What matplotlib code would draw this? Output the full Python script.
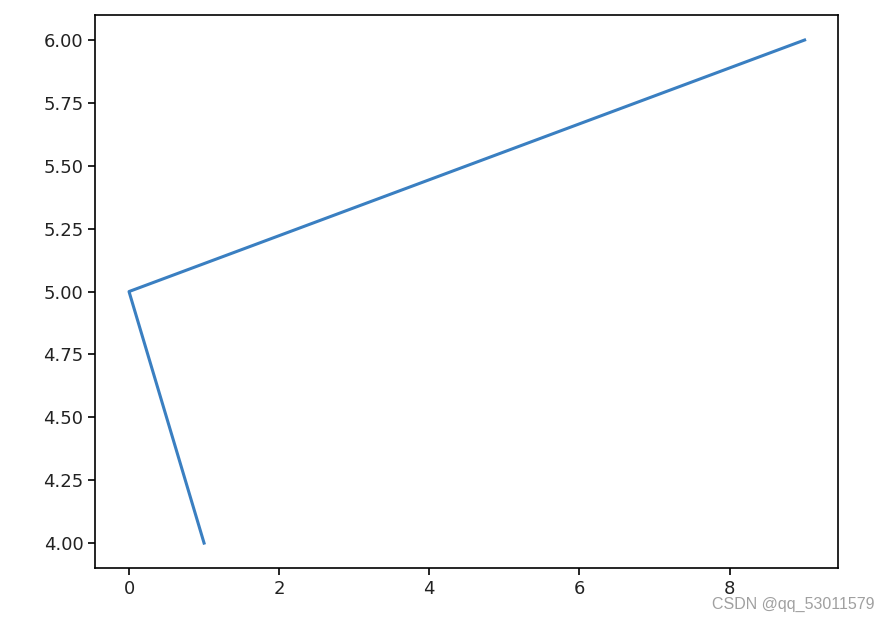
import matplotlib
matplotlib.use("Agg")
import matplotlib.pyplot as plt

# data
x = [1, 0, 9]
y = [4, 5, 6]

fig = plt.figure(figsize=(8.9, 6.19), dpi=100)
ax = fig.add_axes([0.107, 0.082, 0.835, 0.894])
ax.plot(x, y, color='#3a7fc1', linewidth=2.2)

ax.tick_params(labelsize=13, length=5, width=1.2, labelcolor='#222222')
ax.set_yticks([4.0, 4.25, 4.5, 4.75, 5.0, 5.25, 5.5, 5.75, 6.0])
ax.set_yticklabels(['%.2f' % v for v in ax.get_yticks()])
for s in ax.spines.values():
    s.set_linewidth(1.2)

# watermark
fig.text(0.983, 0.012, 'CSDN @qq_53011579', ha='right', va='bottom',
         fontsize=11.5, color='#a0a0a0', family='Liberation Sans')

fig.savefig('out.png', dpi=100)
